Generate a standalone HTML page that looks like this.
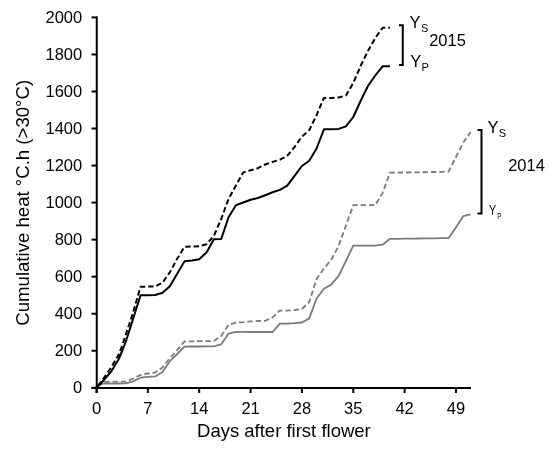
<!DOCTYPE html>
<html><head><meta charset="utf-8"><title>Cumulative heat</title>
<style>html,body{margin:0;padding:0;background:#fff;width:550px;height:451px;overflow:hidden}svg{display:block}</style>
</head><body>
<svg width="550" height="451" viewBox="0 0 550 451">
<rect width="550" height="451" fill="#fff"/>
<g fill="none" stroke-linejoin="round">
<polyline points="96.50,386.00 103.84,383.50 111.17,383.50 118.51,383.50 125.84,383.30 133.18,381.30 140.52,377.70 147.85,376.80 155.19,376.40 162.52,372.00 169.86,361.20 177.20,354.00 184.53,346.60 191.87,346.50 199.20,346.50 206.54,346.40 213.88,346.40 221.21,344.30 228.55,333.70 235.88,331.80 243.22,331.90 250.56,332.00 257.89,332.00 265.23,332.00 272.56,332.00 279.90,323.60 287.24,323.60 294.57,323.20 301.91,322.50 309.24,318.40 316.58,298.50 323.92,288.70 331.25,284.60 338.59,275.80 345.92,261.00 353.26,245.60 360.60,245.60 367.93,245.60 375.27,245.60 382.60,244.70 389.94,238.80 397.28,238.80 404.61,238.70 411.95,238.60 419.28,238.50 426.62,238.40 433.96,238.30 441.29,238.20 448.63,238.00 455.96,227.50 463.30,216.10 470.64,214.40" stroke="#7b7b7b" stroke-width="1.8"/>
<polyline points="96.50,386.00 103.84,381.90 111.17,381.70 118.51,381.70 125.84,381.60 133.18,378.50 140.52,375.00 147.85,373.50 155.19,372.50 162.52,367.50 169.86,358.00 177.20,350.00 184.53,341.50 191.87,341.30 199.20,341.20 206.54,341.10 213.88,341.00 221.21,336.00 228.55,324.70 235.88,322.60 243.22,322.20 250.56,321.40 257.89,321.00 265.23,320.80 272.56,317.50 279.90,310.50 287.24,310.60 294.57,310.20 301.91,309.00 309.24,302.00 316.58,279.00 323.92,268.50 331.25,259.70 338.59,246.00 345.92,225.50 353.26,205.20 360.60,205.20 367.93,205.20 375.27,205.20 382.60,193.00 389.94,172.70 397.28,172.60 404.61,172.50 411.95,172.40 419.28,172.30 426.62,172.20 433.96,172.00 441.29,171.80 448.63,171.50 455.96,157.00 463.30,142.50 470.64,132.00" stroke="#7b7b7b" stroke-width="1.8" stroke-dasharray="5.4 2.92" stroke-dashoffset="7.87"/>
<polyline points="96.50,388.00 103.84,380.00 111.17,371.50 118.51,359.50 122.18,351.00 125.84,341.50 129.51,330.30 133.18,318.50 136.85,307.00 140.52,295.30 147.85,295.20 155.19,295.00 162.52,292.70 169.86,286.20 177.20,273.70 184.53,261.20 191.87,260.60 199.20,259.20 206.54,252.40 213.88,239.20 221.21,239.00 228.55,217.30 235.88,205.20 243.22,202.50 250.56,199.70 257.89,198.00 265.23,195.20 272.56,192.30 279.90,189.90 287.24,185.70 294.57,175.80 301.91,166.00 309.24,160.70 316.58,148.50 323.92,129.30 331.25,129.20 338.59,128.90 345.92,126.40 353.26,117.00 360.60,101.00 367.93,86.00 375.27,75.50 382.60,66.30 389.94,66.30" stroke="#000" stroke-width="2"/>
<polyline points="96.50,388.00 103.84,378.00 111.17,367.50 118.51,355.00 122.18,345.50 125.84,334.50 129.51,323.50 133.18,312.00 136.85,299.50 140.52,286.80 147.85,286.60 155.19,286.40 162.52,282.70 169.86,272.30 177.20,258.70 184.53,246.70 191.87,246.50 199.20,246.30 206.54,244.20 213.88,235.80 221.21,219.00 228.55,199.00 235.88,185.50 243.22,172.40 250.56,170.30 257.89,168.20 265.23,164.50 272.56,161.90 279.90,159.70 287.24,155.80 294.57,147.00 301.91,136.50 309.24,130.30 316.58,115.00 323.92,97.90 331.25,97.90 338.59,97.50 345.92,95.50 353.26,83.00 360.60,66.00 367.93,51.00 375.27,38.00 382.60,27.80 389.94,27.60" stroke="#000" stroke-width="2" stroke-dasharray="5.4 2.92" stroke-dashoffset="5.77"/>
</g>
<g stroke="#000" stroke-width="2" fill="none">
<line x1="96.75" y1="16.4" x2="96.75" y2="393"/>
<line x1="91.5" y1="387.9" x2="471" y2="387.9"/>
<line x1="91.5" y1="387.80" x2="97" y2="387.80"/>
<line x1="91.5" y1="350.76" x2="97" y2="350.76"/>
<line x1="91.5" y1="313.72" x2="97" y2="313.72"/>
<line x1="91.5" y1="276.68" x2="97" y2="276.68"/>
<line x1="91.5" y1="239.64" x2="97" y2="239.64"/>
<line x1="91.5" y1="202.60" x2="97" y2="202.60"/>
<line x1="91.5" y1="165.56" x2="97" y2="165.56"/>
<line x1="91.5" y1="128.52" x2="97" y2="128.52"/>
<line x1="91.5" y1="91.48" x2="97" y2="91.48"/>
<line x1="91.5" y1="54.44" x2="97" y2="54.44"/>
<line x1="91.5" y1="17.40" x2="97" y2="17.40"/>
<line x1="96.50" y1="388" x2="96.50" y2="393"/>
<line x1="147.85" y1="388" x2="147.85" y2="393"/>
<line x1="199.20" y1="388" x2="199.20" y2="393"/>
<line x1="250.56" y1="388" x2="250.56" y2="393"/>
<line x1="301.91" y1="388" x2="301.91" y2="393"/>
<line x1="353.26" y1="388" x2="353.26" y2="393"/>
<line x1="404.61" y1="388" x2="404.61" y2="393"/>
<line x1="455.96" y1="388" x2="455.96" y2="393"/>
<polyline points="399,25.3 402.75,25.3 402.75,64.9 399,64.9"/>
<polyline points="477.5,130 481.5,130 481.5,213.6 477.5,213.6"/>
</g>
<g font-family='"Liberation Sans", Arial, sans-serif' font-size="16" fill="#000">
<text x="82.2" y="393.40" text-anchor="end" font-size="16.5">0</text>
<text x="82.2" y="356.36" text-anchor="end" font-size="16.5">200</text>
<text x="82.2" y="319.32" text-anchor="end" font-size="16.5">400</text>
<text x="82.2" y="282.28" text-anchor="end" font-size="16.5">600</text>
<text x="82.2" y="245.24" text-anchor="end" font-size="16.5">800</text>
<text x="82.2" y="208.20" text-anchor="end" font-size="16.5">1000</text>
<text x="82.2" y="171.16" text-anchor="end" font-size="16.5">1200</text>
<text x="82.2" y="134.12" text-anchor="end" font-size="16.5">1400</text>
<text x="82.2" y="97.08" text-anchor="end" font-size="16.5">1600</text>
<text x="82.2" y="60.04" text-anchor="end" font-size="16.5">1800</text>
<text x="82.2" y="23.00" text-anchor="end" font-size="16.5">2000</text>
<text x="96.50" y="413.5" text-anchor="middle" font-size="16.5">0</text>
<text x="147.85" y="413.5" text-anchor="middle" font-size="16.5">7</text>
<text x="199.20" y="413.5" text-anchor="middle" font-size="16.5">14</text>
<text x="250.56" y="413.5" text-anchor="middle" font-size="16.5">21</text>
<text x="301.91" y="413.5" text-anchor="middle" font-size="16.5">28</text>
<text x="353.26" y="413.5" text-anchor="middle" font-size="16.5">35</text>
<text x="404.61" y="413.5" text-anchor="middle" font-size="16.5">42</text>
<text x="455.96" y="413.5" text-anchor="middle" font-size="16.5">49</text>
</g>
<text x="283.9" y="436.9" text-anchor="middle" font-family='"Liberation Sans", Arial, sans-serif' font-size="18.5">Days after first flower</text>
<text transform="translate(29.3,202.8) rotate(-90)" text-anchor="middle" font-family='"Liberation Sans", Arial, sans-serif' font-size="18.6">Cumulative heat °C.h (&gt;30°C)</text>
<g font-family='"Liberation Sans", Arial, sans-serif' fill="#000">
<text x="409.6" y="27.8" font-size="16.5">Y</text><text x="420.9" y="32.4" font-size="11">S</text>
<text x="429.2" y="46.3" font-size="16.5">2015</text>
<text x="410.2" y="66.7" font-size="16.5">Y</text><text x="421.6" y="70.9" font-size="11">P</text>
<text x="487.5" y="132.5" font-size="16.5">Y</text><text x="498.7" y="136.6" font-size="11">S</text>
<text x="508.2" y="171.2" font-size="16.5">2014</text>
<text transform="translate(489,214.7) scale(0.75,1)" font-size="14.4">Y</text><text transform="translate(497.3,218.6) scale(0.75,1)" font-size="8.6">P</text>
</g>
</svg>
</body></html>
